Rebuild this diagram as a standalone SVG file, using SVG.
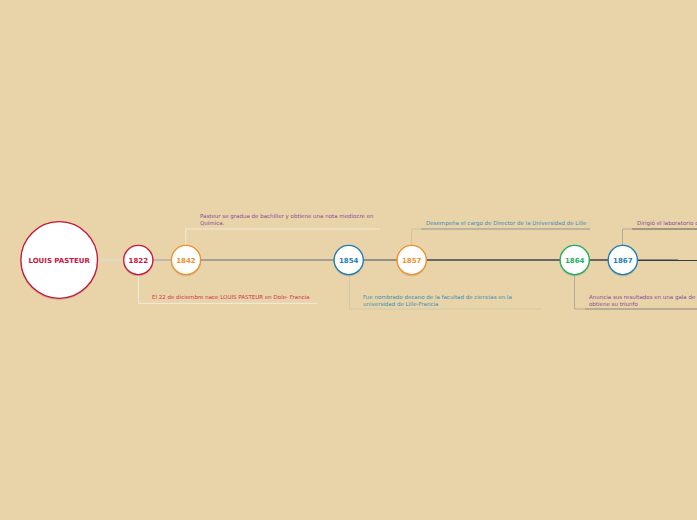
<svg xmlns="http://www.w3.org/2000/svg" width="697" height="520" viewBox="0 0 697 520">
<style>
.node{fill:#fff;stroke-width:1.3}
.yr{font-family:"DejaVu Sans",Verdana,sans-serif;font-weight:bold;font-size:7px;text-anchor:middle}
.lbl{font-family:"DejaVu Sans",Verdana,sans-serif;font-size:5.5px}
.red{stroke:#c9163c}.redt{fill:#c9163c}
.org{stroke:#f0922e}.orgt{fill:#f0922e}
.blu{stroke:#1f7db4}.blut{fill:#1f7db4}
.grn{stroke:#1fae5c}.grnt{fill:#1fae5c}
.pur{fill:#8a4b9b}
.lb{fill:#3a8db5}
</style>
<defs>
<filter id="sh" x="-30%" y="-30%" width="160%" height="160%">
<feDropShadow dx="0" dy="0.6" stdDeviation="0.7" flood-color="#000" flood-opacity="0.25"/>
</filter>
</defs>
<rect width="697" height="520" fill="#e8d4a8"/>
<g id="connectors" fill="none">
<line x1="97" y1="260" x2="124" y2="260" stroke="#dcdcdc" stroke-width="1.3"/>
<line x1="153" y1="260" x2="171" y2="260" stroke="#a8a8ae" stroke-width="1.3"/>
<line x1="201" y1="260" x2="334" y2="260" stroke="#8e8e94" stroke-width="1.4"/>
<line x1="363" y1="260" x2="397" y2="260" stroke="#7a7a7c" stroke-width="1.5"/>
<line x1="426" y1="260" x2="560" y2="260" stroke="#67676a" stroke-width="1.8"/>
<line x1="589" y1="260" x2="608" y2="260" stroke="#58585c" stroke-width="1.8"/>
<line x1="637" y1="259.5" x2="678" y2="259.5" stroke="#8a8a84" stroke-width="1"/>
<line x1="637" y1="260.5" x2="697" y2="260.5" stroke="#363a48" stroke-width="1.2"/>
<polyline points="138.3,275 138.3,303.3 317,303.3" stroke="#f3ecdc" stroke-width="1"/>
<polyline points="185.7,245 185.7,229 380,229" stroke="#f0e8d4" stroke-width="1"/>
<polyline points="349.5,275 349.5,309 542,309" stroke="#d2c8ae" stroke-width="1"/>
<polyline points="411.7,245 411.7,229 421,229" stroke="#cfc3a3" stroke-width="1"/>
<line x1="421" y1="229" x2="590" y2="229" stroke="#bcb3a1" stroke-width="1.8"/>
<polyline points="574.5,275 574.5,309 585,309" stroke="#b4aa92" stroke-width="1"/>
<line x1="585" y1="309" x2="697" y2="309" stroke="#a89f8c" stroke-width="1.6"/>
<polyline points="622.5,245 622.5,229 632,229" stroke="#b4aa92" stroke-width="1"/>
<line x1="632" y1="229" x2="697" y2="229" stroke="#a49680" stroke-width="1.8"/>
</g>
<g id="root">
<circle cx="59.2" cy="260" r="38.3" class="node red" filter="url(#sh)"/>
<text x="59.2" y="262.5" class="yr redt">LOUIS PASTEUR</text>
</g>
<g id="n1822">
<circle cx="138.3" cy="260" r="14.6" class="node red" filter="url(#sh)"/>
<text x="138.3" y="262.5" class="yr redt">1822</text>
<text x="152" y="298.5" class="lbl" fill="#d0304e">El 22 de diciembre nace LOUIS PASTEUR en Dole- Francia</text>
</g>
<g id="n1842">
<circle cx="186" cy="260" r="14.6" class="node org" filter="url(#sh)"/>
<text x="186" y="262.5" class="yr orgt">1842</text>
<text x="200" y="217.5" class="lbl pur">Pasteur se gradua de bachiller y obtiene una nota mediocre en</text>
<text x="200" y="224.8" class="lbl pur">Quimica.</text>
</g>
<g id="n1854">
<circle cx="348.7" cy="260" r="14.6" class="node blu" filter="url(#sh)"/>
<text x="348.7" y="262.5" class="yr blut">1854</text>
<text x="363" y="298.8" class="lbl lb">Fue nombrado decano de la facultad de ciencias en la</text>
<text x="363" y="305.6" class="lbl lb">universidad de Lille-Francia</text>
</g>
<g id="n1857">
<circle cx="411.7" cy="260" r="14.6" class="node org" filter="url(#sh)"/>
<text x="411.7" y="262.5" class="yr orgt">1857</text>
<text x="426" y="225" class="lbl lb">Desempeña el cargo de Director de la Universidad de Lille</text>
</g>
<g id="n1864">
<circle cx="574.7" cy="260" r="14.6" class="node grn" filter="url(#sh)"/>
<text x="574.7" y="262.5" class="yr grnt">1864</text>
<text x="589" y="298.8" class="lbl pur">Anuncia sus resultados en una gala de</text>
<text x="589" y="305.6" class="lbl pur">obtiene su triunfo</text>
</g>
<g id="n1867">
<circle cx="622.8" cy="260" r="14.6" class="node blu" filter="url(#sh)"/>
<text x="622.8" y="262.5" class="yr blut">1867</text>
<text x="637" y="225" class="lbl pur">Dirigió el laboratorio d</text>
</g>
</svg>
